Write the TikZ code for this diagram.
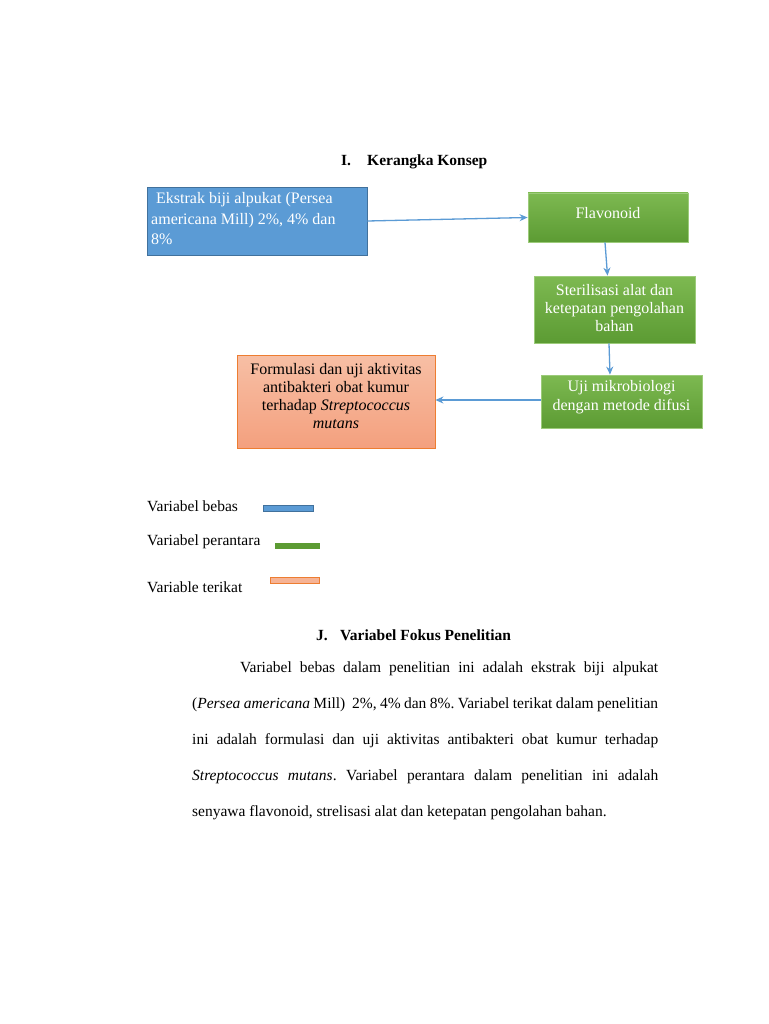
\documentclass[tikz,border=0pt]{standalone}
\usepackage{fontspec}
\setmainfont{Liberation Serif}
\usetikzlibrary{arrows.meta}
\definecolor{bfill}{HTML}{5B9BD5}
\definecolor{bdraw}{HTML}{41719C}
\definecolor{gtop}{HTML}{7DB951}
\definecolor{gbot}{HTML}{5C9B33}
\definecolor{gdraw}{HTML}{9CCB7A}
\definecolor{otop}{HTML}{F7BFA5}
\definecolor{obot}{HTML}{F4A07E}
\definecolor{odraw}{HTML}{ED7D31}
\definecolor{arr}{HTML}{5B9BD5}
\tikzset{
  every node/.style={font=\fontsize{15.5}{18}\selectfont, inner sep=0pt},
  bluebox/.style={draw=bdraw, fill=bfill, line width=0.8pt},
  greenbox/.style={draw=gdraw, top color=gtop, bottom color=gbot, line width=0.8pt},
  orangebox/.style={draw=odraw, top color=otop, bottom color=obot, line width=0.8pt},
  boxtext/.style={align=center, font=\fontsize{16}{18}\selectfont},
  wlabel/.style={boxtext, text=white},
  conn/.style={draw=arr, line width=1.3pt, -{Stealth[length=8pt,width=7pt]}},
  txt/.style={anchor=base west},
  head/.style={txt, font=\fontsize{15.5}{18}\selectfont\bfseries},
}
\begin{document}
\frenchspacing
\begin{tikzpicture}[x=1pt,y=-1pt]
\useasboundingbox[fill=white] (0,0) rectangle (768,1024);

% headings
\node[head] (h1n) at (341,166) {I.};
\node[head] (h1) at (367,166) {Kerangka Konsep};

% boxes
\node[bluebox, minimum width=220pt, minimum height=68pt] (ext) at (257,221) {};
\node[text=white, align=left, anchor=west, font=\fontsize{16}{20.5}\selectfont\frenchspacing] (extt) at (151,219)
  {\hspace*{5pt}Ekstrak biji alpukat (Persea\\americana Mill) 2\%, 4\% dan\\8\%};
\node[greenbox, minimum width=160pt, minimum height=49pt] (flav) at (608,217.5) {};
\node[wlabel] (flavt) at (608,213) {Flavonoid};
\node[greenbox, minimum width=161pt, minimum height=67pt] (ster) at (614.5,309.5) {};
\node[wlabel] (stert) at (614.5,308) {Sterilisasi alat dan\\ketepatan pengolahan\\bahan};
\node[greenbox, minimum width=161pt, minimum height=53pt] (uji) at (621.5,401.5) {};
\node[wlabel, font=\fontsize{16}{19}\selectfont] (ujit) at (621.5,397.5) {Uji mikrobiologi\\dengan metode difusi};
\node[orangebox, minimum width=198pt, minimum height=93pt] (form) at (336,401.5) {};
\node[boxtext] (formt) at (336,396)
  {Formulasi dan uji aktivitas\\antibakteri obat kumur\\terhadap \textit{Streptococcus}\\\textit{mutans}};

% connectors
\draw[conn] (ext.east) -- (flav.west);
\draw[conn] ([xshift=-3pt]flav.south) -- ([xshift=-7pt]ster.north);
\draw[conn] ([xshift=-5.5pt]ster.south) -- ([xshift=-11.5pt]uji.north);
\draw[conn] ([yshift=1.5pt]uji.west) -- ([yshift=1.5pt]form.east);

% legend
\node[txt] (l1) at (147,511) {Variabel bebas};
\node[txt] (l2) at (147,545) {Variabel perantara};
\node[txt] (l3) at (147,592) {Variable terikat};
\draw[draw=bdraw, fill=bfill, line width=0.6pt] (263,505) rectangle (313,511);
\fill[fill=gbot] (275,543) rectangle (320,549);
\draw[draw=odraw, fill=otop!60!obot, line width=0.6pt] (270,577) rectangle (319,583);

% section J
\node[head] (h2n) at (316,640) {J.};
\node[head] (h2) at (340,640) {Variabel Fokus Penelitian};

\node[txt] (p1) at (240,672) {\makebox[418pt][s]{Variabel bebas dalam penelitian ini adalah ekstrak biji alpukat}};
\node[txt] (p2) at (192,708) {\makebox[466pt][s]{(\textit{Persea americana} Mill)\ \ 2\%, 4\% dan 8\%. Variabel terikat dalam penelitian}};
\node[txt] (p3) at (192,744) {\makebox[466pt][s]{ini adalah formulasi dan uji aktivitas antibakteri obat kumur terhadap}};
\node[txt] (p4) at (192,780) {\makebox[466pt][s]{\textit{Streptococcus mutans}. Variabel perantara dalam penelitian ini adalah}};
\node[txt] (p5) at (192,816) {senyawa flavonoid, strelisasi alat dan ketepatan pengolahan bahan.};
\end{tikzpicture}
\end{document}
